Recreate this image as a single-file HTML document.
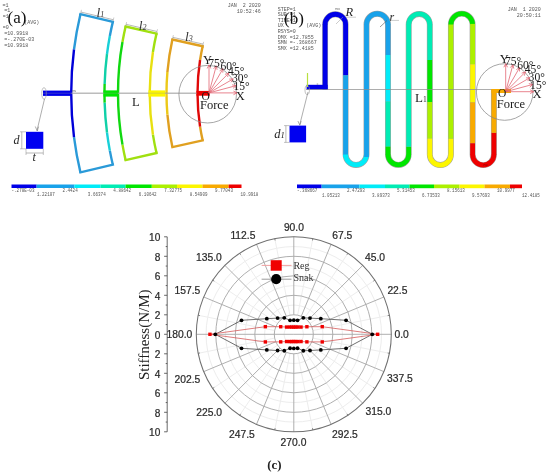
<!DOCTYPE html>
<html><head><meta charset="utf-8"><title>Figure</title>
<style>html,body{margin:0;padding:0;background:#fff;}svg{display:block;filter:blur(0.4px);}</style>
</head><body>
<svg width="550" height="473" viewBox="0 0 550 473">
<rect width="550" height="473" fill="#fff"/>
<path d="M80.42 14.21 A343.8 343.8 0 0 0 74 49.5" stroke="#2a9ad8" stroke-width="2.4" fill="none"/>
<path d="M74 49.5 A343.8 343.8 0 0 0 71.2 93.3" stroke="#0000d8" stroke-width="2.4" fill="none"/>
<path d="M74 137.1 A343.8 343.8 0 0 0 80.42 172.39" stroke="#2a9ad8" stroke-width="2.4" fill="none"/>
<path d="M71.2 93.3 A343.8 343.8 0 0 0 74 137.1" stroke="#0000d8" stroke-width="2.4" fill="none"/>
<path d="M112.83 21.87 A310.5 310.5 0 0 0 109.83 36" stroke="#2a9ad8" stroke-width="2.4" fill="none"/>
<path d="M109.83 36 A310.5 310.5 0 0 0 107 54" stroke="#18d0d8" stroke-width="2.4" fill="none"/>
<path d="M107 54 A310.5 310.5 0 0 0 104.64 84" stroke="#10d0a8" stroke-width="2.4" fill="none"/>
<path d="M104.64 84 A310.5 310.5 0 0 0 104.5 93.3" stroke="#10d810" stroke-width="2.4" fill="none"/>
<path d="M109.83 150.6 A310.5 310.5 0 0 0 112.83 164.73" stroke="#2a9ad8" stroke-width="2.4" fill="none"/>
<path d="M107 132.6 A310.5 310.5 0 0 0 109.83 150.6" stroke="#18d0d8" stroke-width="2.4" fill="none"/>
<path d="M104.64 102.6 A310.5 310.5 0 0 0 107 132.6" stroke="#10d0a8" stroke-width="2.4" fill="none"/>
<path d="M104.5 93.3 A310.5 310.5 0 0 0 104.64 102.6" stroke="#10d810" stroke-width="2.4" fill="none"/>
<line x1="80.42" y1="14.21" x2="112.83" y2="21.87" stroke="#2a9ad8" stroke-width="2.4" stroke-linecap="square"/>
<line x1="80.42" y1="172.39" x2="112.83" y2="164.73" stroke="#2a9ad8" stroke-width="2.4" stroke-linecap="square"/>
<path d="M125.61 26.49 A297 297 0 0 0 122.46 42" stroke="#a0e010" stroke-width="2.4" fill="none"/>
<path d="M122.46 42 A297 297 0 0 0 118 93.3" stroke="#10d810" stroke-width="2.4" fill="none"/>
<path d="M122.46 144.6 A297 297 0 0 0 125.61 160.11" stroke="#a0e010" stroke-width="2.4" fill="none"/>
<path d="M118 93.3 A297 297 0 0 0 122.46 144.6" stroke="#10d810" stroke-width="2.4" fill="none"/>
<path d="M156.5 33.62 A265.3 265.3 0 0 0 152.93 52" stroke="#a0e010" stroke-width="2.4" fill="none"/>
<path d="M152.93 52 A265.3 265.3 0 0 0 149.7 93.3" stroke="#e8e010" stroke-width="2.4" fill="none"/>
<path d="M152.93 134.6 A265.3 265.3 0 0 0 156.5 152.98" stroke="#a0e010" stroke-width="2.4" fill="none"/>
<path d="M149.7 93.3 A265.3 265.3 0 0 0 152.93 134.6" stroke="#e8e010" stroke-width="2.4" fill="none"/>
<line x1="125.61" y1="26.49" x2="156.5" y2="33.62" stroke="#a0e010" stroke-width="2.4" stroke-linecap="square"/>
<line x1="125.61" y1="160.11" x2="156.5" y2="152.98" stroke="#a0e010" stroke-width="2.4" stroke-linecap="square"/>
<path d="M172.39 39.51 A248.5 248.5 0 0 0 167.41 72" stroke="#e0a020" stroke-width="2.4" fill="none"/>
<path d="M167.41 72 A248.5 248.5 0 0 0 166.5 93.3" stroke="#ecc818" stroke-width="2.4" fill="none"/>
<path d="M167.41 114.6 A248.5 248.5 0 0 0 172.39 147.09" stroke="#e0a020" stroke-width="2.4" fill="none"/>
<path d="M166.5 93.3 A248.5 248.5 0 0 0 167.41 114.6" stroke="#ecc818" stroke-width="2.4" fill="none"/>
<path d="M202.66 46.22 A217.5 217.5 0 0 0 200.06 60" stroke="#e0a020" stroke-width="2.4" fill="none"/>
<path d="M200.06 60 A217.5 217.5 0 0 0 197.5 93.3" stroke="#e00808" stroke-width="2.4" fill="none"/>
<path d="M200.06 126.6 A217.5 217.5 0 0 0 202.66 140.38" stroke="#e0a020" stroke-width="2.4" fill="none"/>
<path d="M197.5 93.3 A217.5 217.5 0 0 0 200.06 126.6" stroke="#e00808" stroke-width="2.4" fill="none"/>
<line x1="172.39" y1="39.51" x2="202.66" y2="46.22" stroke="#e0a020" stroke-width="2.4" stroke-linecap="square"/>
<line x1="172.39" y1="147.09" x2="202.66" y2="140.38" stroke="#e0a020" stroke-width="2.4" stroke-linecap="square"/>
<line x1="43" y1="93.2" x2="197" y2="93.2" stroke="#9a9a9a" stroke-width="0.8"/>
<rect x="43" y="90.6" width="28.5" height="5.3" fill="#0000e8"/>
<rect x="103.5" y="90.4" width="14.5" height="6.2" fill="#00e600"/>
<rect x="148.5" y="90.4" width="16.8" height="6.2" fill="#fcf600"/>
<rect x="196.5" y="90.9" width="13.3" height="4.8" fill="#ee0000"/>
<line x1="43" y1="93.2" x2="197" y2="93.2" stroke="#9a9a9a" stroke-width="0.6" opacity="0.6"/>
<ellipse cx="44" cy="93.4" rx="2.3" ry="5.8" fill="none" stroke="#999" stroke-width="0.6"/>
<text x="72" y="92" font-family="Liberation Mono" font-size="3.2" fill="#666">MN</text>
<line x1="44.5" y1="99" x2="37" y2="130.5" stroke="#777" stroke-width="0.6"/>
<path d="M35.3 126.5 L37.3 131 L38.6 126.6" fill="none" stroke="#777" stroke-width="0.6"/>
<rect x="26" y="131.8" width="17.3" height="17" fill="#0000f0"/>
<line x1="21.8" y1="131.8" x2="21.8" y2="148.8" stroke="#888" stroke-width="0.6"/>
<line x1="20" y1="131.8" x2="26" y2="131.8" stroke="#888" stroke-width="0.5"/>
<line x1="20" y1="148.8" x2="26" y2="148.8" stroke="#888" stroke-width="0.5"/>
<line x1="26" y1="153" x2="43.3" y2="153" stroke="#888" stroke-width="0.6"/>
<line x1="26" y1="149" x2="26" y2="155" stroke="#888" stroke-width="0.5"/>
<line x1="43.3" y1="149" x2="43.3" y2="155" stroke="#888" stroke-width="0.5"/>
<text x="13.6" y="144.2" font-family="Liberation Serif" font-style="italic" font-size="12" fill="#222">d</text>
<text x="32.6" y="160.6" font-family="Liberation Serif" font-style="italic" font-size="12" fill="#222">t</text>
<text x="132" y="105.5" font-family="Liberation Serif" font-size="12.5" fill="#222">L</text>
<line x1="80.93" y1="12.07" x2="113.33" y2="19.73" stroke="#888" stroke-width="0.6"/>
<line x1="80.54" y1="13.72" x2="81.46" y2="9.83" stroke="#999" stroke-width="0.5"/>
<line x1="112.94" y1="21.38" x2="113.86" y2="17.49" stroke="#999" stroke-width="0.5"/>
<text x="96.4" y="16.9" font-family="Liberation Serif" font-style="italic" font-size="13.5" fill="#333">l<tspan font-size="8" dy="0">1</tspan></text>
<line x1="126.11" y1="24.35" x2="156.99" y2="31.48" stroke="#888" stroke-width="0.6"/>
<line x1="125.72" y1="26" x2="126.62" y2="22.1" stroke="#999" stroke-width="0.5"/>
<line x1="156.61" y1="33.13" x2="157.51" y2="29.24" stroke="#999" stroke-width="0.5"/>
<text x="138.8" y="29.6" font-family="Liberation Serif" font-style="italic" font-size="13.5" fill="#333">l<tspan font-size="8" dy="0">2</tspan></text>
<line x1="172.87" y1="37.37" x2="203.13" y2="44.08" stroke="#888" stroke-width="0.6"/>
<line x1="172.5" y1="39.03" x2="173.36" y2="35.12" stroke="#999" stroke-width="0.5"/>
<line x1="202.76" y1="45.74" x2="203.63" y2="41.83" stroke="#999" stroke-width="0.5"/>
<text x="184.9" y="41.3" font-family="Liberation Serif" font-style="italic" font-size="13.5" fill="#333">l<tspan font-size="8" dy="0">3</tspan></text>
<circle cx="207.7" cy="94.2" r="28.8" fill="none" stroke="#888" stroke-width="0.75"/>
<path d="M209 92.9 L237 92.9 M233.44 91.08 L237 92.9 L233.44 94.72" fill="none" stroke="#e26472" stroke-width="0.8"/>
<path d="M209 92.9 L236.05 85.65 M232.13 84.82 L236.05 85.65 L233.07 88.33" fill="none" stroke="#e26472" stroke-width="0.8"/>
<path d="M209 92.9 L233.25 78.9 M229.25 79.11 L233.25 78.9 L231.07 82.25" fill="none" stroke="#e26472" stroke-width="0.8"/>
<path d="M209 92.9 L228.8 73.1 M224.99 74.34 L228.8 73.1 L227.56 76.91" fill="none" stroke="#e26472" stroke-width="0.8"/>
<path d="M209 92.9 L223 68.65 M219.65 70.83 L223 68.65 L222.79 72.65" fill="none" stroke="#e26472" stroke-width="0.8"/>
<path d="M209 92.9 L216.25 65.85 M213.57 68.83 L216.25 65.85 L217.08 69.77" fill="none" stroke="#e26472" stroke-width="0.8"/>
<path d="M209 92.9 L209 64.9 M207.18 68.46 L209 64.9 L210.82 68.46" fill="none" stroke="#e26472" stroke-width="0.8"/>
<text x="203.1" y="64.1" font-family="Liberation Serif" fill="#1a1a1a" font-size="12.5">Y</text>
<text x="208.2" y="66.6" font-family="Liberation Serif" fill="#1a1a1a" font-size="11.6">75°</text>
<text x="220.5" y="69.7" font-family="Liberation Serif" fill="#1a1a1a" font-size="11.6">60°</text>
<text x="228.1" y="74.6" font-family="Liberation Serif" fill="#1a1a1a" font-size="11.6">45°</text>
<text x="231.9" y="81.8" font-family="Liberation Serif" fill="#1a1a1a" font-size="11.6">30°</text>
<text x="233.4" y="90.1" font-family="Liberation Serif" fill="#1a1a1a" font-size="11.6">15°</text>
<text x="235.8" y="99.5" font-family="Liberation Serif" fill="#1a1a1a" font-size="12.5">X</text>
<text x="201.4" y="100" font-family="Liberation Serif" fill="#1a1a1a" font-size="11.5">O</text>
<text x="200" y="109" font-family="Liberation Serif" fill="#1a1a1a" font-size="12.5">Force</text>
<path d="M325.1 89.6 L325.1 24.5 A10.25 10.25 0 0 1 345.6 24.5 L345.6 154.5 A10.45 10.45 0 0 0 366.5 154.5 L366.5 24.5 A10.75 10.75 0 0 1 388 24.5 L388 154.5 A10.35 10.35 0 0 0 408.7 154.5 L408.7 24.5 A10.55 10.55 0 0 1 429.8 24.5 L429.8 154.5 A10.55 10.55 0 0 0 450.9 154.5 L450.9 24.5 A10.85 10.85 0 0 1 472.6 24.5 L472.6 154.5 A10.65 10.65 0 0 0 493.9 154.5 L493.9 89" fill="none" stroke="#303030" stroke-opacity="0.45" stroke-width="5.9"/>
<line x1="325.1" y1="23.9" x2="325.1" y2="89.6" stroke="#0000e8" stroke-width="4.8"/>
<line x1="306.6" y1="87.2" x2="327.6" y2="87.2" stroke="#0000e8" stroke-width="4.8"/>
<path d="M325.1 24.5 A10.25 10.25 0 0 1 345.6 24.5" stroke="#0000e8" stroke-width="4.8" fill="none"/>
<line x1="345.6" y1="23.9" x2="345.6" y2="75.3" stroke="#0000e8" stroke-width="4.8"/>
<line x1="345.6" y1="75.3" x2="345.6" y2="157" stroke="#18a2ea" stroke-width="4.8"/>
<line x1="345.6" y1="157" x2="345.6" y2="155.1" stroke="#00ecf8" stroke-width="4.8"/>
<path d="M345.6 154.5 A10.45 10.45 0 0 0 366.5 154.5" stroke="#00ecf8" stroke-width="4.8" fill="none"/>
<line x1="366.5" y1="157" x2="366.5" y2="155.1" stroke="#00ecf8" stroke-width="4.8"/>
<line x1="366.5" y1="23.9" x2="366.5" y2="157" stroke="#18a2ea" stroke-width="4.8"/>
<path d="M366.5 24.5 A10.75 10.75 0 0 1 388 24.5" stroke="#18a2ea" stroke-width="4.8" fill="none"/>
<line x1="388" y1="23.9" x2="388" y2="55" stroke="#18a2ea" stroke-width="4.8"/>
<line x1="388" y1="55" x2="388" y2="101.6" stroke="#00ecf8" stroke-width="4.8"/>
<line x1="388" y1="101.6" x2="388" y2="146.7" stroke="#00ecb4" stroke-width="4.8"/>
<line x1="388" y1="146.7" x2="388" y2="155.1" stroke="#00e600" stroke-width="4.8"/>
<path d="M388 154.5 A10.35 10.35 0 0 0 408.7 154.5" stroke="#00e600" stroke-width="4.8" fill="none"/>
<line x1="408.7" y1="146.7" x2="408.7" y2="155.1" stroke="#00e600" stroke-width="4.8"/>
<line x1="408.7" y1="23.9" x2="408.7" y2="146.7" stroke="#00ecb4" stroke-width="4.8"/>
<path d="M408.7 24.5 A10.55 10.55 0 0 1 429.8 24.5" stroke="#00ecb4" stroke-width="4.8" fill="none"/>
<line x1="429.8" y1="23.9" x2="429.8" y2="60" stroke="#00ecb4" stroke-width="4.8"/>
<line x1="429.8" y1="60" x2="429.8" y2="102" stroke="#00e600" stroke-width="4.8"/>
<line x1="429.8" y1="102" x2="429.8" y2="138.6" stroke="#acf000" stroke-width="4.8"/>
<line x1="429.8" y1="138.6" x2="429.8" y2="155.1" stroke="#fcf600" stroke-width="4.8"/>
<path d="M429.8 154.5 A10.55 10.55 0 0 0 450.9 154.5" stroke="#fcf600" stroke-width="4.8" fill="none"/>
<line x1="450.9" y1="138.6" x2="450.9" y2="155.1" stroke="#fcf600" stroke-width="4.8"/>
<line x1="450.9" y1="23.9" x2="450.9" y2="138.6" stroke="#acf000" stroke-width="4.8"/>
<path d="M450.9 24.5 A10.85 10.85 0 0 1 472.6 24.5" stroke="#00e600" stroke-width="4.8" fill="none"/>
<line x1="472.6" y1="23.9" x2="472.6" y2="64.3" stroke="#acf000" stroke-width="4.8"/>
<line x1="472.6" y1="64.3" x2="472.6" y2="102.4" stroke="#fcf600" stroke-width="4.8"/>
<line x1="472.6" y1="102.4" x2="472.6" y2="143.3" stroke="#f8aa00" stroke-width="4.8"/>
<line x1="472.6" y1="143.3" x2="472.6" y2="155.1" stroke="#ee0000" stroke-width="4.8"/>
<path d="M472.6 154.5 A10.65 10.65 0 0 0 493.9 154.5" stroke="#ee0000" stroke-width="4.8" fill="none"/>
<line x1="493.9" y1="132.8" x2="493.9" y2="155.1" stroke="#ee0000" stroke-width="4.8"/>
<line x1="493.9" y1="89" x2="493.9" y2="132.8" stroke="#f8aa00" stroke-width="4.8"/>
<line x1="491.4" y1="91" x2="511" y2="91" stroke="#f8aa00" stroke-width="4"/>
<line x1="306" y1="89.5" x2="491" y2="89.5" stroke="#8a8a8a" stroke-width="0.7"/>
<ellipse cx="307.2" cy="90" rx="2.2" ry="4.5" fill="none" stroke="#999" stroke-width="0.6"/>
<line x1="307.5" y1="73" x2="307.5" y2="87" stroke="#b8e040" stroke-width="1.2"/>
<text x="316.5" y="84.5" font-family="Liberation Mono" font-size="3.2" fill="#777">X</text>
<text x="335.3" y="10.2" font-family="Liberation Mono" font-size="3.6" fill="#555">MN</text>
<text x="483.6" y="166" font-family="Liberation Mono" font-size="3.4" fill="#700">MX</text>
<line x1="308" y1="92" x2="299.8" y2="124.5" stroke="#777" stroke-width="0.6"/>
<path d="M297.9 121 L299.8 125.2 L301.2 121.2" fill="none" stroke="#777" stroke-width="0.6"/>
<rect x="289.5" y="125.6" width="16.6" height="16.8" fill="#0000f0"/>
<line x1="285.9" y1="125.6" x2="285.9" y2="142.4" stroke="#888" stroke-width="0.6"/>
<line x1="284" y1="125.6" x2="289.5" y2="125.6" stroke="#888" stroke-width="0.5"/>
<line x1="284" y1="142.4" x2="289.5" y2="142.4" stroke="#888" stroke-width="0.5"/>
<text x="274.3" y="137.8" font-family="Liberation Serif" font-style="italic" font-size="12.5" fill="#222">d<tspan font-size="8.5" dy="0">1</tspan></text>
<text x="345.5" y="15.6" font-family="Liberation Serif" font-style="italic" font-size="12.5" fill="#222">R</text>
<line x1="346" y1="17.2" x2="356" y2="17.2" stroke="#999" stroke-width="0.5"/>
<line x1="336" y1="24" x2="343" y2="17" stroke="#999" stroke-width="0.5"/>
<text x="389.5" y="20.6" font-family="Liberation Serif" font-style="italic" font-size="12" fill="#222">r</text>
<line x1="389" y1="20.4" x2="399" y2="20.4" stroke="#999" stroke-width="0.5"/>
<line x1="380" y1="27" x2="387" y2="20.5" stroke="#555" stroke-width="0.6"/>
<text x="415" y="101.6" font-family="Liberation Serif" font-size="13" fill="#222">L<tspan font-size="7.5" dy="0">1</tspan></text>
<circle cx="504.7" cy="92" r="28.3" fill="none" stroke="#888" stroke-width="0.75"/>
<path d="M505.7 91.7 L533.7 91.7 M530.14 89.88 L533.7 91.7 L530.14 93.52" fill="none" stroke="#e26472" stroke-width="0.8"/>
<path d="M505.7 91.7 L532.75 84.45 M528.83 83.62 L532.75 84.45 L529.77 87.13" fill="none" stroke="#e26472" stroke-width="0.8"/>
<path d="M505.7 91.7 L529.95 77.7 M525.95 77.91 L529.95 77.7 L527.77 81.05" fill="none" stroke="#e26472" stroke-width="0.8"/>
<path d="M505.7 91.7 L525.5 71.9 M521.69 73.14 L525.5 71.9 L524.26 75.71" fill="none" stroke="#e26472" stroke-width="0.8"/>
<path d="M505.7 91.7 L519.7 67.45 M516.35 69.63 L519.7 67.45 L519.49 71.45" fill="none" stroke="#e26472" stroke-width="0.8"/>
<path d="M505.7 91.7 L512.95 64.65 M510.27 67.63 L512.95 64.65 L513.78 68.57" fill="none" stroke="#e26472" stroke-width="0.8"/>
<path d="M505.7 91.7 L505.7 63.7 M503.88 67.26 L505.7 63.7 L507.52 67.26" fill="none" stroke="#e26472" stroke-width="0.8"/>
<text x="499.8" y="62.9" font-family="Liberation Serif" fill="#1a1a1a" font-size="12.5">Y</text>
<text x="504.9" y="65.4" font-family="Liberation Serif" fill="#1a1a1a" font-size="11.6">75°</text>
<text x="517.2" y="68.5" font-family="Liberation Serif" fill="#1a1a1a" font-size="11.6">60°</text>
<text x="524.8" y="73.4" font-family="Liberation Serif" fill="#1a1a1a" font-size="11.6">45°</text>
<text x="528.6" y="80.6" font-family="Liberation Serif" fill="#1a1a1a" font-size="11.6">30°</text>
<text x="530.1" y="88.9" font-family="Liberation Serif" fill="#1a1a1a" font-size="11.6">15°</text>
<text x="532.5" y="98.3" font-family="Liberation Serif" fill="#1a1a1a" font-size="12.5">X</text>
<text x="498.1" y="97.3" font-family="Liberation Serif" fill="#1a1a1a" font-size="11.5">O</text>
<text x="496.7" y="107.8" font-family="Liberation Serif" fill="#1a1a1a" font-size="12.5">Force</text>
<text x="2.6" y="6.6" font-family="Liberation Mono" fill="#555" font-size="5" text-anchor="start">=1</text>
<text x="4.2" y="12.3" font-family="Liberation Mono" fill="#555" font-size="5" text-anchor="start">=1</text>
<text x="2.8" y="18" font-family="Liberation Mono" fill="#555" font-size="5" text-anchor="start">=1</text>
<text x="2.8" y="29.4" font-family="Liberation Mono" fill="#555" font-size="5" text-anchor="start">=0</text>
<text x="4.2" y="35.1" font-family="Liberation Mono" fill="#555" font-size="5" text-anchor="start">=10.9918</text>
<text x="4.2" y="40.8" font-family="Liberation Mono" fill="#555" font-size="5" text-anchor="start">=-.270E-03</text>
<text x="4.2" y="46.5" font-family="Liberation Mono" fill="#555" font-size="5" text-anchor="start">=10.9918</text>
<text x="24.3" y="23.7" font-family="Liberation Mono" fill="#555" font-size="5" text-anchor="start">(AVG)</text>
<text x="260.8" y="6.7" font-family="Liberation Mono" fill="#555" font-size="5" text-anchor="end">JAN  2 2020</text>
<text x="260.8" y="12.7" font-family="Liberation Mono" fill="#555" font-size="5" text-anchor="end">10:52:46</text>
<text x="277.8" y="10.5" font-family="Liberation Mono" fill="#555" font-size="5" text-anchor="start">STEP=1</text>
<text x="277.8" y="16.15" font-family="Liberation Mono" fill="#555" font-size="5" text-anchor="start">SUB =1</text>
<text x="277.8" y="21.8" font-family="Liberation Mono" fill="#555" font-size="5" text-anchor="start">TIME=1</text>
<text x="277.8" y="27.45" font-family="Liberation Mono" fill="#555" font-size="5" text-anchor="start">UX</text>
<text x="277.8" y="33.1" font-family="Liberation Mono" fill="#555" font-size="5" text-anchor="start">RSYS=0</text>
<text x="277.8" y="38.75" font-family="Liberation Mono" fill="#555" font-size="5" text-anchor="start">DMX =12.7855</text>
<text x="277.8" y="44.4" font-family="Liberation Mono" fill="#555" font-size="5" text-anchor="start">SMN =-.368667</text>
<text x="277.8" y="50.05" font-family="Liberation Mono" fill="#555" font-size="5" text-anchor="start">SMX =12.4185</text>
<text x="306.3" y="27.45" font-family="Liberation Mono" fill="#555" font-size="5" text-anchor="start">(AVG)</text>
<text x="540.8" y="11.4" font-family="Liberation Mono" fill="#555" font-size="5" text-anchor="end">JAN  1 2020</text>
<text x="540.8" y="16.8" font-family="Liberation Mono" fill="#555" font-size="5" text-anchor="end">20:50:11</text>
<text x="7.6" y="22.6" font-family="Liberation Serif" font-size="17" fill="#111">(a)</text>
<text x="284" y="24.4" font-family="Liberation Serif" font-size="17" fill="#111">(b)</text>
<rect x="11.5" y="184.5" width="25.1" height="3.5" fill="#0000e8"/>
<rect x="36.6" y="184.5" width="37.8" height="3.5" fill="#18a2ea"/>
<rect x="74.4" y="184.5" width="26.1" height="3.5" fill="#00ecf8"/>
<rect x="100.5" y="184.5" width="25.1" height="3.5" fill="#00ecb4"/>
<rect x="125.6" y="184.5" width="26.2" height="3.5" fill="#00e600"/>
<rect x="151.8" y="184.5" width="25.2" height="3.5" fill="#acf000"/>
<rect x="177" y="184.5" width="25.5" height="3.5" fill="#fcf600"/>
<rect x="202.5" y="184.5" width="26.2" height="3.5" fill="#f8aa00"/>
<rect x="228.7" y="184.5" width="12.8" height="3.5" fill="#ee0000"/>
<rect x="297" y="184.5" width="24.6" height="3.7" fill="#0000e8"/>
<rect x="321.6" y="184.5" width="37.8" height="3.7" fill="#18a2ea"/>
<rect x="359.4" y="184.5" width="25.6" height="3.7" fill="#00ecf8"/>
<rect x="385" y="184.5" width="24.5" height="3.7" fill="#00ecb4"/>
<rect x="409.5" y="184.5" width="24.5" height="3.7" fill="#00e600"/>
<rect x="434" y="184.5" width="25.5" height="3.7" fill="#acf000"/>
<rect x="459.5" y="184.5" width="25" height="3.7" fill="#fcf600"/>
<rect x="484.5" y="184.5" width="25.5" height="3.7" fill="#f8aa00"/>
<rect x="510" y="184.5" width="12" height="3.7" fill="#ee0000"/>
<text x="11.5" y="191.8" font-family="Liberation Mono" fill="#555" font-size="5.2" text-anchor="start" textLength="22.95" lengthAdjust="spacingAndGlyphs">-.270E-03</text>
<text x="36.95" y="196.2" font-family="Liberation Mono" fill="#555" font-size="5.2" text-anchor="start" textLength="17.85" lengthAdjust="spacingAndGlyphs">1.22107</text>
<text x="62.4" y="191.8" font-family="Liberation Mono" fill="#555" font-size="5.2" text-anchor="start" textLength="15.3" lengthAdjust="spacingAndGlyphs">2.4424</text>
<text x="87.85" y="196.2" font-family="Liberation Mono" fill="#555" font-size="5.2" text-anchor="start" textLength="17.85" lengthAdjust="spacingAndGlyphs">3.66374</text>
<text x="113.3" y="191.8" font-family="Liberation Mono" fill="#555" font-size="5.2" text-anchor="start" textLength="17.85" lengthAdjust="spacingAndGlyphs">4.88642</text>
<text x="138.75" y="196.2" font-family="Liberation Mono" fill="#555" font-size="5.2" text-anchor="start" textLength="17.85" lengthAdjust="spacingAndGlyphs">6.10642</text>
<text x="164.2" y="191.8" font-family="Liberation Mono" fill="#555" font-size="5.2" text-anchor="start" textLength="17.85" lengthAdjust="spacingAndGlyphs">7.32775</text>
<text x="189.65" y="196.2" font-family="Liberation Mono" fill="#555" font-size="5.2" text-anchor="start" textLength="17.85" lengthAdjust="spacingAndGlyphs">8.54909</text>
<text x="215.1" y="191.8" font-family="Liberation Mono" fill="#555" font-size="5.2" text-anchor="start" textLength="17.85" lengthAdjust="spacingAndGlyphs">9.77043</text>
<text x="240.55" y="196.2" font-family="Liberation Mono" fill="#555" font-size="5.2" text-anchor="start" textLength="17.85" lengthAdjust="spacingAndGlyphs">10.9918</text>
<text x="297" y="191.9" font-family="Liberation Mono" fill="#555" font-size="5.2" text-anchor="start" textLength="20.4" lengthAdjust="spacingAndGlyphs">-.368667</text>
<text x="322" y="197.3" font-family="Liberation Mono" fill="#555" font-size="5.2" text-anchor="start" textLength="17.85" lengthAdjust="spacingAndGlyphs">1.05213</text>
<text x="347" y="191.9" font-family="Liberation Mono" fill="#555" font-size="5.2" text-anchor="start" textLength="17.85" lengthAdjust="spacingAndGlyphs">2.47293</text>
<text x="372" y="197.3" font-family="Liberation Mono" fill="#555" font-size="5.2" text-anchor="start" textLength="17.85" lengthAdjust="spacingAndGlyphs">3.89373</text>
<text x="397" y="191.9" font-family="Liberation Mono" fill="#555" font-size="5.2" text-anchor="start" textLength="17.85" lengthAdjust="spacingAndGlyphs">5.31453</text>
<text x="422" y="197.3" font-family="Liberation Mono" fill="#555" font-size="5.2" text-anchor="start" textLength="17.85" lengthAdjust="spacingAndGlyphs">6.73533</text>
<text x="447" y="191.9" font-family="Liberation Mono" fill="#555" font-size="5.2" text-anchor="start" textLength="17.85" lengthAdjust="spacingAndGlyphs">8.15613</text>
<text x="472" y="197.3" font-family="Liberation Mono" fill="#555" font-size="5.2" text-anchor="start" textLength="17.85" lengthAdjust="spacingAndGlyphs">9.57693</text>
<text x="497" y="191.9" font-family="Liberation Mono" fill="#555" font-size="5.2" text-anchor="start" textLength="17.85" lengthAdjust="spacingAndGlyphs">10.9977</text>
<text x="522" y="197.3" font-family="Liberation Mono" fill="#555" font-size="5.2" text-anchor="start" textLength="17.85" lengthAdjust="spacingAndGlyphs">12.4185</text>
<circle cx="293.8" cy="334.3" r="9.75" fill="none" stroke="#ededed" stroke-width="1"/>
<circle cx="293.8" cy="334.3" r="29.25" fill="none" stroke="#ededed" stroke-width="1"/>
<circle cx="293.8" cy="334.3" r="48.75" fill="none" stroke="#ededed" stroke-width="1"/>
<circle cx="293.8" cy="334.3" r="68.25" fill="none" stroke="#ededed" stroke-width="1"/>
<circle cx="293.8" cy="334.3" r="87.75" fill="none" stroke="#ededed" stroke-width="1"/>
<line x1="312.93" y1="330.5" x2="389.43" y2="315.28" stroke="#ededed" stroke-width="1"/>
<line x1="310.01" y1="323.47" x2="374.87" y2="280.13" stroke="#ededed" stroke-width="1"/>
<line x1="304.63" y1="318.09" x2="347.97" y2="253.23" stroke="#ededed" stroke-width="1"/>
<line x1="297.6" y1="315.17" x2="312.82" y2="238.67" stroke="#ededed" stroke-width="1"/>
<line x1="290" y1="315.17" x2="274.78" y2="238.67" stroke="#ededed" stroke-width="1"/>
<line x1="282.97" y1="318.09" x2="239.63" y2="253.23" stroke="#ededed" stroke-width="1"/>
<line x1="277.59" y1="323.47" x2="212.73" y2="280.13" stroke="#ededed" stroke-width="1"/>
<line x1="274.67" y1="330.5" x2="198.17" y2="315.28" stroke="#ededed" stroke-width="1"/>
<line x1="274.67" y1="338.1" x2="198.17" y2="353.32" stroke="#ededed" stroke-width="1"/>
<line x1="277.59" y1="345.13" x2="212.73" y2="388.47" stroke="#ededed" stroke-width="1"/>
<line x1="282.97" y1="350.51" x2="239.63" y2="415.37" stroke="#ededed" stroke-width="1"/>
<line x1="290" y1="353.43" x2="274.78" y2="429.93" stroke="#ededed" stroke-width="1"/>
<line x1="297.6" y1="353.43" x2="312.82" y2="429.93" stroke="#ededed" stroke-width="1"/>
<line x1="304.63" y1="350.51" x2="347.97" y2="415.37" stroke="#ededed" stroke-width="1"/>
<line x1="310.01" y1="345.13" x2="374.87" y2="388.47" stroke="#ededed" stroke-width="1"/>
<line x1="312.93" y1="338.1" x2="389.43" y2="353.32" stroke="#ededed" stroke-width="1"/>
<circle cx="293.8" cy="334.3" r="19.5" fill="none" stroke="#a6a6a6" stroke-width="0.9"/>
<circle cx="293.8" cy="334.3" r="39" fill="none" stroke="#a6a6a6" stroke-width="0.9"/>
<circle cx="293.8" cy="334.3" r="58.5" fill="none" stroke="#a6a6a6" stroke-width="0.9"/>
<circle cx="293.8" cy="334.3" r="78" fill="none" stroke="#a6a6a6" stroke-width="0.9"/>
<line x1="293.8" y1="334.3" x2="391.3" y2="334.3" stroke="#a6a6a6" stroke-width="0.9"/>
<line x1="311.82" y1="326.84" x2="383.88" y2="296.99" stroke="#a6a6a6" stroke-width="0.9"/>
<line x1="307.59" y1="320.51" x2="362.74" y2="265.36" stroke="#a6a6a6" stroke-width="0.9"/>
<line x1="301.26" y1="316.28" x2="331.11" y2="244.22" stroke="#a6a6a6" stroke-width="0.9"/>
<line x1="293.8" y1="314.8" x2="293.8" y2="236.8" stroke="#a6a6a6" stroke-width="0.9"/>
<line x1="286.34" y1="316.28" x2="256.49" y2="244.22" stroke="#a6a6a6" stroke-width="0.9"/>
<line x1="280.01" y1="320.51" x2="224.86" y2="265.36" stroke="#a6a6a6" stroke-width="0.9"/>
<line x1="275.78" y1="326.84" x2="203.72" y2="296.99" stroke="#a6a6a6" stroke-width="0.9"/>
<line x1="293.8" y1="334.3" x2="196.3" y2="334.3" stroke="#a6a6a6" stroke-width="0.9"/>
<line x1="275.78" y1="341.76" x2="203.72" y2="371.61" stroke="#a6a6a6" stroke-width="0.9"/>
<line x1="280.01" y1="348.09" x2="224.86" y2="403.24" stroke="#a6a6a6" stroke-width="0.9"/>
<line x1="286.34" y1="352.32" x2="256.49" y2="424.38" stroke="#a6a6a6" stroke-width="0.9"/>
<line x1="293.8" y1="353.8" x2="293.8" y2="431.8" stroke="#a6a6a6" stroke-width="0.9"/>
<line x1="301.26" y1="352.32" x2="331.11" y2="424.38" stroke="#a6a6a6" stroke-width="0.9"/>
<line x1="307.59" y1="348.09" x2="362.74" y2="403.24" stroke="#a6a6a6" stroke-width="0.9"/>
<line x1="311.82" y1="341.76" x2="383.88" y2="371.61" stroke="#a6a6a6" stroke-width="0.9"/>
<circle cx="293.8" cy="334.3" r="97.5" fill="none" stroke="#707070" stroke-width="1.05"/>
<text x="394.5" y="338.1" font-family="Liberation Sans" fill="#2a2a2a" stroke="#2a2a2a" stroke-width="0.22" font-size="10.3" text-anchor="start">0.0</text>
<text x="387.4" y="293.8" font-family="Liberation Sans" fill="#2a2a2a" stroke="#2a2a2a" stroke-width="0.22" font-size="10.3" text-anchor="start">22.5</text>
<text x="365" y="261.3" font-family="Liberation Sans" fill="#2a2a2a" stroke="#2a2a2a" stroke-width="0.22" font-size="10.3" text-anchor="start">45.0</text>
<text x="332.3" y="238.9" font-family="Liberation Sans" fill="#2a2a2a" stroke="#2a2a2a" stroke-width="0.22" font-size="10.3" text-anchor="start">67.5</text>
<text x="293.9" y="230.6" font-family="Liberation Sans" fill="#2a2a2a" stroke="#2a2a2a" stroke-width="0.22" font-size="10.3" text-anchor="middle">90.0</text>
<text x="255.4" y="238.9" font-family="Liberation Sans" fill="#2a2a2a" stroke="#2a2a2a" stroke-width="0.22" font-size="10.3" text-anchor="end">112.5</text>
<text x="221.8" y="261.3" font-family="Liberation Sans" fill="#2a2a2a" stroke="#2a2a2a" stroke-width="0.22" font-size="10.3" text-anchor="end">135.0</text>
<text x="200.3" y="293.5" font-family="Liberation Sans" fill="#2a2a2a" stroke="#2a2a2a" stroke-width="0.22" font-size="10.3" text-anchor="end">157.5</text>
<text x="192.3" y="337.9" font-family="Liberation Sans" fill="#2a2a2a" stroke="#2a2a2a" stroke-width="0.22" font-size="10.3" text-anchor="end">180.0</text>
<text x="200.3" y="382.6" font-family="Liberation Sans" fill="#2a2a2a" stroke="#2a2a2a" stroke-width="0.22" font-size="10.3" text-anchor="end">202.5</text>
<text x="222" y="415.6" font-family="Liberation Sans" fill="#2a2a2a" stroke="#2a2a2a" stroke-width="0.22" font-size="10.3" text-anchor="end">225.0</text>
<text x="254.8" y="437.6" font-family="Liberation Sans" fill="#2a2a2a" stroke="#2a2a2a" stroke-width="0.22" font-size="10.3" text-anchor="end">247.5</text>
<text x="293.5" y="445.7" font-family="Liberation Sans" fill="#2a2a2a" stroke="#2a2a2a" stroke-width="0.22" font-size="10.3" text-anchor="middle">270.0</text>
<text x="332" y="437.6" font-family="Liberation Sans" fill="#2a2a2a" stroke="#2a2a2a" stroke-width="0.22" font-size="10.3" text-anchor="start">292.5</text>
<text x="365.5" y="415" font-family="Liberation Sans" fill="#2a2a2a" stroke="#2a2a2a" stroke-width="0.22" font-size="10.3" text-anchor="start">315.0</text>
<text x="387" y="382.1" font-family="Liberation Sans" fill="#2a2a2a" stroke="#2a2a2a" stroke-width="0.22" font-size="10.3" text-anchor="start">337.5</text>
<line x1="387.66" y1="315.63" x2="389.43" y2="315.28" stroke="#6a6a6a" stroke-width="0.8"/>
<line x1="373.37" y1="281.13" x2="374.87" y2="280.13" stroke="#6a6a6a" stroke-width="0.8"/>
<line x1="346.97" y1="254.73" x2="347.97" y2="253.23" stroke="#6a6a6a" stroke-width="0.8"/>
<line x1="312.47" y1="240.44" x2="312.82" y2="238.67" stroke="#6a6a6a" stroke-width="0.8"/>
<line x1="275.13" y1="240.44" x2="274.78" y2="238.67" stroke="#6a6a6a" stroke-width="0.8"/>
<line x1="240.63" y1="254.73" x2="239.63" y2="253.23" stroke="#6a6a6a" stroke-width="0.8"/>
<line x1="214.23" y1="281.13" x2="212.73" y2="280.13" stroke="#6a6a6a" stroke-width="0.8"/>
<line x1="199.94" y1="315.63" x2="198.17" y2="315.28" stroke="#6a6a6a" stroke-width="0.8"/>
<line x1="199.94" y1="352.97" x2="198.17" y2="353.32" stroke="#6a6a6a" stroke-width="0.8"/>
<line x1="214.23" y1="387.47" x2="212.73" y2="388.47" stroke="#6a6a6a" stroke-width="0.8"/>
<line x1="240.63" y1="413.87" x2="239.63" y2="415.37" stroke="#6a6a6a" stroke-width="0.8"/>
<line x1="275.13" y1="428.16" x2="274.78" y2="429.93" stroke="#6a6a6a" stroke-width="0.8"/>
<line x1="312.47" y1="428.16" x2="312.82" y2="429.93" stroke="#6a6a6a" stroke-width="0.8"/>
<line x1="346.97" y1="413.87" x2="347.97" y2="415.37" stroke="#6a6a6a" stroke-width="0.8"/>
<line x1="373.37" y1="387.47" x2="374.87" y2="388.47" stroke="#6a6a6a" stroke-width="0.8"/>
<line x1="387.66" y1="352.97" x2="389.43" y2="353.32" stroke="#6a6a6a" stroke-width="0.8"/>
<line x1="167.2" y1="236.8" x2="167.2" y2="431.8" stroke="#444" stroke-width="0.8"/>
<line x1="164.1" y1="236.8" x2="167.2" y2="236.8" stroke="#444" stroke-width="0.8"/>
<text x="160.3" y="241.4" font-family="Liberation Sans" fill="#2a2a2a" stroke="#2a2a2a" stroke-width="0.22" font-size="10.1" text-anchor="end">10</text>
<line x1="165.7" y1="246.55" x2="167.2" y2="246.55" stroke="#444" stroke-width="0.8"/>
<line x1="164.1" y1="256.3" x2="167.2" y2="256.3" stroke="#444" stroke-width="0.8"/>
<text x="160.3" y="260.9" font-family="Liberation Sans" fill="#2a2a2a" stroke="#2a2a2a" stroke-width="0.22" font-size="10.1" text-anchor="end">8</text>
<line x1="165.7" y1="266.05" x2="167.2" y2="266.05" stroke="#444" stroke-width="0.8"/>
<line x1="164.1" y1="275.8" x2="167.2" y2="275.8" stroke="#444" stroke-width="0.8"/>
<text x="160.3" y="280.4" font-family="Liberation Sans" fill="#2a2a2a" stroke="#2a2a2a" stroke-width="0.22" font-size="10.1" text-anchor="end">6</text>
<line x1="165.7" y1="285.55" x2="167.2" y2="285.55" stroke="#444" stroke-width="0.8"/>
<line x1="164.1" y1="295.3" x2="167.2" y2="295.3" stroke="#444" stroke-width="0.8"/>
<text x="160.3" y="299.9" font-family="Liberation Sans" fill="#2a2a2a" stroke="#2a2a2a" stroke-width="0.22" font-size="10.1" text-anchor="end">4</text>
<line x1="165.7" y1="305.05" x2="167.2" y2="305.05" stroke="#444" stroke-width="0.8"/>
<line x1="164.1" y1="314.8" x2="167.2" y2="314.8" stroke="#444" stroke-width="0.8"/>
<text x="160.3" y="319.4" font-family="Liberation Sans" fill="#2a2a2a" stroke="#2a2a2a" stroke-width="0.22" font-size="10.1" text-anchor="end">2</text>
<line x1="165.7" y1="324.55" x2="167.2" y2="324.55" stroke="#444" stroke-width="0.8"/>
<line x1="164.1" y1="334.3" x2="167.2" y2="334.3" stroke="#444" stroke-width="0.8"/>
<text x="160.3" y="338.9" font-family="Liberation Sans" fill="#2a2a2a" stroke="#2a2a2a" stroke-width="0.22" font-size="10.1" text-anchor="end">0</text>
<line x1="165.7" y1="344.05" x2="167.2" y2="344.05" stroke="#444" stroke-width="0.8"/>
<line x1="164.1" y1="353.8" x2="167.2" y2="353.8" stroke="#444" stroke-width="0.8"/>
<text x="160.3" y="358.4" font-family="Liberation Sans" fill="#2a2a2a" stroke="#2a2a2a" stroke-width="0.22" font-size="10.1" text-anchor="end">2</text>
<line x1="165.7" y1="363.55" x2="167.2" y2="363.55" stroke="#444" stroke-width="0.8"/>
<line x1="164.1" y1="373.3" x2="167.2" y2="373.3" stroke="#444" stroke-width="0.8"/>
<text x="160.3" y="377.9" font-family="Liberation Sans" fill="#2a2a2a" stroke="#2a2a2a" stroke-width="0.22" font-size="10.1" text-anchor="end">4</text>
<line x1="165.7" y1="383.05" x2="167.2" y2="383.05" stroke="#444" stroke-width="0.8"/>
<line x1="164.1" y1="392.8" x2="167.2" y2="392.8" stroke="#444" stroke-width="0.8"/>
<text x="160.3" y="397.4" font-family="Liberation Sans" fill="#2a2a2a" stroke="#2a2a2a" stroke-width="0.22" font-size="10.1" text-anchor="end">6</text>
<line x1="165.7" y1="402.55" x2="167.2" y2="402.55" stroke="#444" stroke-width="0.8"/>
<line x1="164.1" y1="412.3" x2="167.2" y2="412.3" stroke="#444" stroke-width="0.8"/>
<text x="160.3" y="416.9" font-family="Liberation Sans" fill="#2a2a2a" stroke="#2a2a2a" stroke-width="0.22" font-size="10.1" text-anchor="end">8</text>
<line x1="165.7" y1="422.05" x2="167.2" y2="422.05" stroke="#444" stroke-width="0.8"/>
<line x1="164.1" y1="431.8" x2="167.2" y2="431.8" stroke="#444" stroke-width="0.8"/>
<text x="160.3" y="436.4" font-family="Liberation Sans" fill="#2a2a2a" stroke="#2a2a2a" stroke-width="0.22" font-size="10.1" text-anchor="end">10</text>
<text transform="translate(148.9 334.8) rotate(-90)" font-family="Liberation Serif" font-size="15" fill="#222" text-anchor="middle">Stiffness(N/M)</text>
<polyline points="372.29,334.3 346.07,320.29 320.82,318.7 310,318.1 303.31,317.83 297.53,320.36 293.8,320.16 290.07,320.36 284.29,317.83 277.6,318.1 266.78,318.7 241.53,320.29 215.31,334.3 241.53,348.31 266.78,349.9 277.6,350.5 284.29,350.77 290.07,348.24 293.8,348.44 297.53,348.24 303.31,350.77 310,350.5 320.82,349.9 346.07,348.31 372.29,334.3" fill="none" stroke="#4a4a4a" stroke-width="0.8"/>
<polyline points="377.65,334.3 322.24,326.68 306.89,326.74 301.04,327.06 297.99,327.04 295.74,327.05 293.8,327.09 291.86,327.05 289.61,327.04 286.56,327.06 280.71,326.74 265.36,326.68 209.95,334.3 265.36,341.92 280.71,341.86 286.56,341.54 289.61,341.56 291.86,341.55 293.8,341.51 295.74,341.55 297.99,341.56 301.04,341.54 306.89,341.86 322.24,341.92 377.65,334.3" fill="none" stroke="#d65c5c" stroke-width="0.8"/>
<rect x="375.95" y="332.6" width="3.4" height="3.4" fill="#f00000"/>
<rect x="320.54" y="324.98" width="3.4" height="3.4" fill="#f00000"/>
<rect x="305.19" y="325.04" width="3.4" height="3.4" fill="#f00000"/>
<rect x="299.34" y="325.36" width="3.4" height="3.4" fill="#f00000"/>
<rect x="296.29" y="325.34" width="3.4" height="3.4" fill="#f00000"/>
<rect x="294.04" y="325.35" width="3.4" height="3.4" fill="#f00000"/>
<rect x="292.1" y="325.39" width="3.4" height="3.4" fill="#f00000"/>
<rect x="290.16" y="325.35" width="3.4" height="3.4" fill="#f00000"/>
<rect x="287.91" y="325.34" width="3.4" height="3.4" fill="#f00000"/>
<rect x="284.86" y="325.36" width="3.4" height="3.4" fill="#f00000"/>
<rect x="279.01" y="325.04" width="3.4" height="3.4" fill="#f00000"/>
<rect x="263.66" y="324.98" width="3.4" height="3.4" fill="#f00000"/>
<rect x="208.25" y="332.6" width="3.4" height="3.4" fill="#f00000"/>
<rect x="263.66" y="340.22" width="3.4" height="3.4" fill="#f00000"/>
<rect x="279.01" y="340.16" width="3.4" height="3.4" fill="#f00000"/>
<rect x="284.86" y="339.84" width="3.4" height="3.4" fill="#f00000"/>
<rect x="287.91" y="339.86" width="3.4" height="3.4" fill="#f00000"/>
<rect x="290.16" y="339.85" width="3.4" height="3.4" fill="#f00000"/>
<rect x="292.1" y="339.81" width="3.4" height="3.4" fill="#f00000"/>
<rect x="294.04" y="339.85" width="3.4" height="3.4" fill="#f00000"/>
<rect x="296.29" y="339.86" width="3.4" height="3.4" fill="#f00000"/>
<rect x="299.34" y="339.84" width="3.4" height="3.4" fill="#f00000"/>
<rect x="305.19" y="340.16" width="3.4" height="3.4" fill="#f00000"/>
<rect x="320.54" y="340.22" width="3.4" height="3.4" fill="#f00000"/>
<circle cx="372.29" cy="334.3" r="1.9" fill="#000"/>
<circle cx="346.07" cy="320.29" r="1.9" fill="#000"/>
<circle cx="320.82" cy="318.7" r="1.9" fill="#000"/>
<circle cx="310" cy="318.1" r="1.9" fill="#000"/>
<circle cx="303.31" cy="317.83" r="1.9" fill="#000"/>
<circle cx="297.53" cy="320.36" r="1.9" fill="#000"/>
<circle cx="293.8" cy="320.16" r="1.9" fill="#000"/>
<circle cx="290.07" cy="320.36" r="1.9" fill="#000"/>
<circle cx="284.29" cy="317.83" r="1.9" fill="#000"/>
<circle cx="277.6" cy="318.1" r="1.9" fill="#000"/>
<circle cx="266.78" cy="318.7" r="1.9" fill="#000"/>
<circle cx="241.53" cy="320.29" r="1.9" fill="#000"/>
<circle cx="215.31" cy="334.3" r="1.9" fill="#000"/>
<circle cx="241.53" cy="348.31" r="1.9" fill="#000"/>
<circle cx="266.78" cy="349.9" r="1.9" fill="#000"/>
<circle cx="277.6" cy="350.5" r="1.9" fill="#000"/>
<circle cx="284.29" cy="350.77" r="1.9" fill="#000"/>
<circle cx="290.07" cy="348.24" r="1.9" fill="#000"/>
<circle cx="293.8" cy="348.44" r="1.9" fill="#000"/>
<circle cx="297.53" cy="348.24" r="1.9" fill="#000"/>
<circle cx="303.31" cy="350.77" r="1.9" fill="#000"/>
<circle cx="310" cy="350.5" r="1.9" fill="#000"/>
<circle cx="320.82" cy="349.9" r="1.9" fill="#000"/>
<circle cx="346.07" cy="348.31" r="1.9" fill="#000"/>
<line x1="261.6" y1="265.4" x2="291.5" y2="265.4" stroke="#f0a0a0" stroke-width="1"/>
<rect x="270.7" y="260.2" width="11" height="10.5" fill="#f00000"/>
<line x1="261.6" y1="279.2" x2="291.5" y2="279.2" stroke="#9a9a9a" stroke-width="1"/>
<circle cx="276.2" cy="279.1" r="5.1" fill="#000"/>
<text x="293.4" y="268.6" font-family="Liberation Serif" font-size="10" fill="#333">Reg</text>
<text x="293.4" y="281" font-family="Liberation Serif" font-size="10" fill="#333">Snak</text>
<text x="274.3" y="469" font-family="Liberation Serif" font-weight="bold" font-size="12.8" fill="#222" text-anchor="middle">(c)</text>
</svg>
</body></html>
